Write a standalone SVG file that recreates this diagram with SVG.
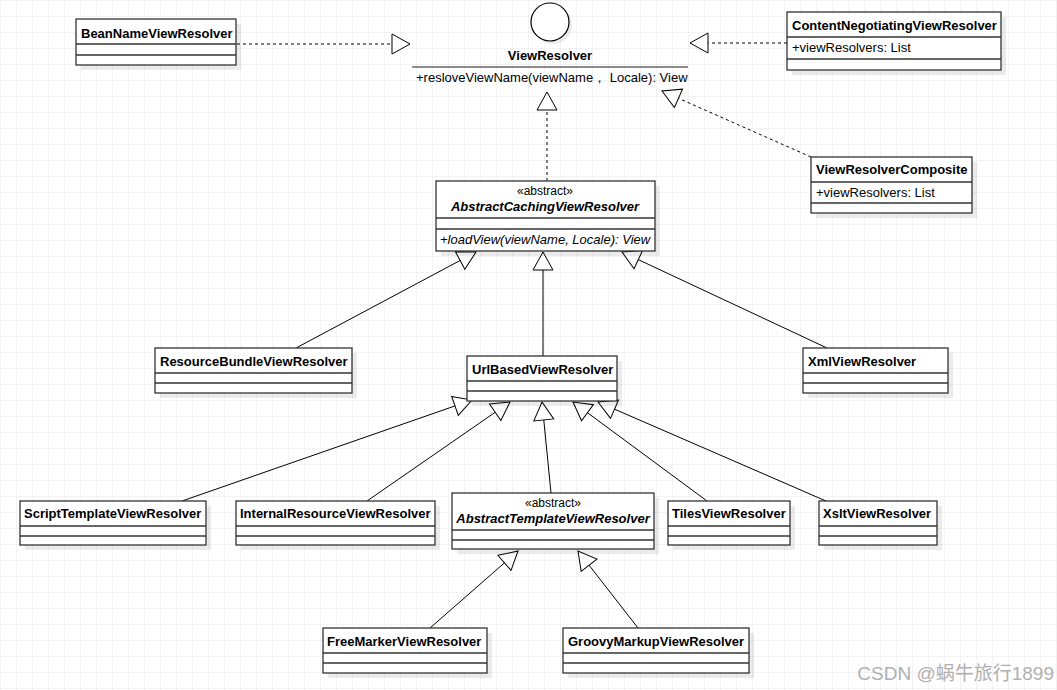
<svg xmlns="http://www.w3.org/2000/svg" width="1057" height="690" viewBox="0 0 1057 690">
<defs>
<pattern id="grid" width="16" height="16" patternUnits="userSpaceOnUse"><path d="M16 0H0V16" fill="none" stroke="#e8e8e8" stroke-width="1"/></pattern>
<marker id="tri" viewBox="0 0 20 22" refX="19" refY="11" markerWidth="20" markerHeight="22" markerUnits="userSpaceOnUse" orient="auto"><path d="M1 1L19 11L1 21Z" fill="#fff" stroke="#000" stroke-width="1"/></marker>
</defs>
<style>
text{font-family:"Liberation Sans",Arial,sans-serif;font-size:13px;fill:#000}
.b{font-weight:bold}
.i{font-style:italic}
.c{text-anchor:middle}
.s{font-size:12px}
.box{fill:#fff;stroke:#333;stroke-width:1.3}
.sh{fill:#000;opacity:0.08}
.ln{stroke:#333;stroke-width:1.3}
.e{fill:none;stroke:#000;stroke-width:1;marker-end:url(#tri)}
.d{stroke-dasharray:3,3}
</style>
<rect width="1057" height="690" fill="#fff"/>
<rect width="1057" height="690" fill="url(#grid)"/>
<g id="connectors">
<path class="e d" d="M237 44H410"/>
<path class="e d" d="M787 43H690"/>
<path class="e d" d="M811 157L662 91"/>
<path class="e d" d="M547 181V92"/>
<path class="e" d="M296 348L476 252"/>
<path class="e" d="M543 356V252"/>
<path class="e" d="M827 348L622 252"/>
<path class="e" d="M182 501L472 400"/>
<path class="e" d="M367 501L510 402"/>
<path class="e" d="M551 493L542 402"/>
<path class="e" d="M707 501L573 402"/>
<path class="e" d="M826 501L598 402"/>
<path class="e" d="M430 628L518 551"/>
<path class="e" d="M638 628L578 551"/>
</g>
<g id="ViewResolver">
<circle cx="553" cy="25" r="19" class="sh"/>
<circle cx="550" cy="22" r="19" fill="#fff" stroke="#000" stroke-width="1.2"/>
<text x="550" y="60" class="b c">ViewResolver</text>
<line x1="412" y1="67" x2="688" y2="67" stroke="#666" stroke-width="1.3"/>
<text x="416" y="82">+resloveViewName(viewName， Locale): View</text>
</g>
<g id="BeanNameViewResolver">
<rect x="81" y="24" width="160" height="46" class="sh"/>
<rect x="76" y="19" width="160" height="46" class="box"/>
<text x="81" y="38" class="b">BeanNameViewResolver</text>
<line x1="76" y1="44" x2="236" y2="44" class="ln"/><line x1="76" y1="55" x2="236" y2="55" class="ln"/>
</g>
<g id="ContentNegotiatingViewResolver">
<rect x="792" y="17" width="214" height="58" class="sh"/>
<rect x="787" y="12" width="214" height="58" class="box"/>
<text x="792" y="30" class="b">ContentNegotiatingViewResolver</text>
<line x1="787" y1="37" x2="1001" y2="37" class="ln"/>
<text x="792" y="52">+viewResolvers: List</text>
<line x1="787" y1="59" x2="1001" y2="59" class="ln"/>
</g>
<g id="ViewResolverComposite">
<rect x="816" y="162" width="161" height="56" class="sh"/>
<rect x="811" y="157" width="161" height="56" class="box"/>
<text x="816" y="174" class="b">ViewResolverComposite</text>
<line x1="811" y1="182" x2="972" y2="182" class="ln"/>
<text x="816" y="197">+viewResolvers: List</text>
<line x1="811" y1="203" x2="972" y2="203" class="ln"/>
</g>
<g id="AbstractCachingViewResolver">
<rect x="441" y="186" width="219" height="70" class="sh"/>
<rect x="436" y="181" width="219" height="70" class="box"/>
<text x="545" y="195" class="c s">«abstract»</text>
<text x="545" y="211" class="b i c">AbstractCachingViewResolver</text>
<line x1="436" y1="218" x2="655" y2="218" class="ln"/><line x1="436" y1="229" x2="655" y2="229" class="ln"/>
<text x="440" y="244" class="i">+loadView(viewName, Locale): View</text>
</g>
<g id="ResourceBundleViewResolver">
<rect x="160" y="353" width="197" height="45" class="sh"/>
<rect x="155" y="348" width="197" height="45" class="box"/>
<text x="160" y="366" class="b">ResourceBundleViewResolver</text>
<line x1="155" y1="373" x2="352" y2="373" class="ln"/><line x1="155" y1="383" x2="352" y2="383" class="ln"/>
</g>
<g id="UrlBasedViewResolver">
<rect x="472" y="361" width="150" height="45" class="sh"/>
<rect x="467" y="356" width="150" height="45" class="box"/>
<text x="472" y="374" class="b">UrlBasedViewResolver</text>
<line x1="467" y1="381" x2="617" y2="381" class="ln"/><line x1="467" y1="391" x2="617" y2="391" class="ln"/>
</g>
<g id="XmlViewResolver">
<rect x="808" y="353" width="145" height="45" class="sh"/>
<rect x="803" y="348" width="145" height="45" class="box"/>
<text x="808" y="366" class="b">XmlViewResolver</text>
<line x1="803" y1="373" x2="948" y2="373" class="ln"/><line x1="803" y1="383" x2="948" y2="383" class="ln"/>
</g>
<g id="ScriptTemplateViewResolver">
<rect x="25" y="506" width="186" height="44" class="sh"/>
<rect x="20" y="501" width="186" height="44" class="box"/>
<text x="24" y="518" class="b">ScriptTemplateViewResolver</text>
<line x1="20" y1="526" x2="206" y2="526" class="ln"/><line x1="20" y1="536" x2="206" y2="536" class="ln"/>
</g>
<g id="InternalResourceViewResolver">
<rect x="241" y="506" width="199" height="44" class="sh"/>
<rect x="236" y="501" width="199" height="44" class="box"/>
<text x="240" y="518" class="b">InternalResourceViewResolver</text>
<line x1="236" y1="526" x2="435" y2="526" class="ln"/><line x1="236" y1="536" x2="435" y2="536" class="ln"/>
</g>
<g id="AbstractTemplateViewResolver">
<rect x="457" y="498" width="202" height="56" class="sh"/>
<rect x="452" y="493" width="202" height="56" class="box"/>
<text x="553" y="507" class="c s">«abstract»</text>
<text x="553" y="523" class="b i c">AbstractTemplateViewResolver</text>
<line x1="452" y1="530" x2="654" y2="530" class="ln"/><line x1="452" y1="540" x2="654" y2="540" class="ln"/>
</g>
<g id="TilesViewResolver">
<rect x="673" y="506" width="122" height="44" class="sh"/>
<rect x="668" y="501" width="122" height="44" class="box"/>
<text x="672" y="518" class="b">TilesViewResolver</text>
<line x1="668" y1="526" x2="790" y2="526" class="ln"/><line x1="668" y1="536" x2="790" y2="536" class="ln"/>
</g>
<g id="XsltViewResolver">
<rect x="824" y="506" width="118" height="44" class="sh"/>
<rect x="819" y="501" width="118" height="44" class="box"/>
<text x="823" y="518" class="b">XsltViewResolver</text>
<line x1="819" y1="526" x2="937" y2="526" class="ln"/><line x1="819" y1="536" x2="937" y2="536" class="ln"/>
</g>
<g id="FreeMarkerViewResolver">
<rect x="328" y="633" width="164" height="45" class="sh"/>
<rect x="323" y="628" width="164" height="45" class="box"/>
<text x="327" y="646" class="b">FreeMarkerViewResolver</text>
<line x1="323" y1="653" x2="487" y2="653" class="ln"/><line x1="323" y1="663" x2="487" y2="663" class="ln"/>
</g>
<g id="GroovyMarkupViewResolver">
<rect x="568" y="633" width="186" height="45" class="sh"/>
<rect x="563" y="628" width="186" height="45" class="box"/>
<text x="568" y="646" class="b">GroovyMarkupViewResolver</text>
<line x1="563" y1="653" x2="749" y2="653" class="ln"/><line x1="563" y1="663" x2="749" y2="663" class="ln"/>
</g>
<text x="1054" y="680" style="font-family:'Liberation Sans','Noto Sans CJK SC',sans-serif;font-size:19px;fill:#b0b0b0;text-anchor:end">CSDN @蜗牛旅行1899</text>
</svg>
